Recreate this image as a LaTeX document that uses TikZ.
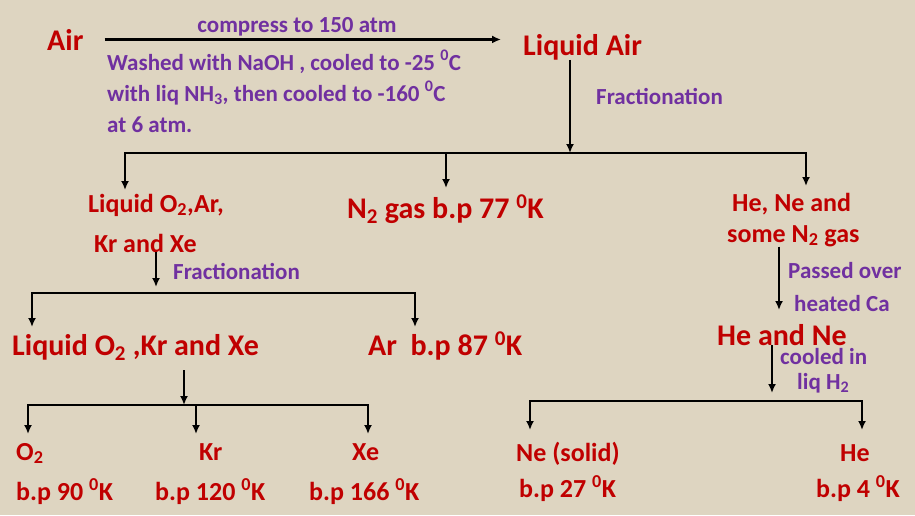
\documentclass[tikz,border=0pt]{standalone}
\usepackage{fontspec}
\setmainfont{Carlito}
\usetikzlibrary{positioning,arrows.meta}
\definecolor{airred}{RGB}{192,0,0}
\definecolor{notepurple}{RGB}{112,48,160}
\definecolor{paper}{RGB}{222,213,193}

\begin{document}
\begin{tikzpicture}[x=1pt, y=-1pt,
	arr/.style={-{Latex[length=9pt,width=8pt]}, line width=2.2pt},
	barline/.style={{Latex[length=9pt,width=8pt]}-{Latex[length=9pt,width=8pt]}, line width=2.2pt}]

\tikzstyle{gas} = [
    text = airred,
    inner sep = 0pt,
    anchor = base west,
    font = \bfseries\fontsize{26}{30}\selectfont
]
\tikzstyle{biggas} = [gas, font = \bfseries\fontsize{30}{34}\selectfont]
\tikzstyle{note} = [
    text = notepurple,
    inner sep = 0pt,
    anchor = base west,
    font = \bfseries\fontsize{23}{27}\selectfont
]

\fill[paper] (0,0) rectangle (915,515);
\useasboundingbox (0,0) rectangle (915,515);

% air to liquid air
\node [biggas] (air) at (47,50) {Air};
\node [biggas] (liqair) at (523,55) {Liquid Air};
\draw [arr] ([xshift=21pt]air.east) -- ([xshift=-22pt]liqair.west |- air.east);
\node [note, anchor=base] (comp) at (297,32) {compress to 150 atm};
\node [note, align=left, font=\bfseries\fontsize{23}{31}\selectfont] (wash) at (107,132)
    {Washed with NaOH , cooled to -25 \textsuperscript{0}C\\
     with liq NH\textsubscript{3}, then cooled to -160 \textsuperscript{0}C\\
     at 6 atm.};

% first fractionation
\coordinate (j1) at (570,153);
\coordinate (t1a) at (125,190);
\coordinate (t1b) at (446,188);
\coordinate (t1c) at (806,186);
\draw [arr] (liqair.south -| j1) -- (j1);
\node [note] (frac1) at (596,104) {Fractionation};
\draw [barline] (t1a) |- (j1) -| (t1c);
\draw [arr] (t1b |- j1) -- (t1b);

\node [gas] (lox1) at (88,212) {Liquid O\textsubscript{2},Ar,};
\node [gas] (lox2) at (94,252) {Kr and Xe};
\node [biggas] (ntwo) at (347,218) {N\textsubscript{2} gas b.p 77 \textsuperscript{0}K};
\node [gas] (hene1) at (732,211) {He, Ne and};
\node [gas] (hene2) at (727,242) {some N\textsubscript{2} gas};

% second fractionation
\coordinate (j2) at (156,293);
\coordinate (t2a) at (32,327);
\coordinate (t2b) at (415,327);
\draw [arr] (lox2.south -| j2) -- ([yshift=6pt]j2);
\node [note] (frac2) at (173,279) {Fractionation};
\draw [barline] (t2a) |- (j2) -| (t2b);

\node [biggas] (lokx) at (12,355) {Liquid O\textsubscript{2} ,Kr and Xe};
\node [biggas] (ar) at (368,355) {Ar\ \ b.p 87 \textsuperscript{0}K};

% O2, Kr, Xe
\coordinate (j3) at (184,405);
\coordinate (t3a) at (28,434);
\coordinate (t3b) at (196,434);
\coordinate (t3c) at (368,434);
\draw [arr] ([yshift=-10pt]lokx.south -| j3) -- (j3);
\draw [barline] (t3a) |- (j3) -| (t3c);
\draw [arr] (t3b |- j3) -- (t3b);

\node [gas] (otwo) at (16,460) {O\textsubscript{2}};
\node [gas] (otwobp) at (16,500) {b.p 90 \textsuperscript{0}K};
\node [gas] (kr) at (199,460) {Kr};
\node [gas] (krbp) at (155,500) {b.p 120 \textsuperscript{0}K};
\node [gas] (xe) at (352,460) {Xe};
\node [gas] (xebp) at (309,500) {b.p 166 \textsuperscript{0}K};

% He and Ne
\coordinate (j4) at (779,310);
\draw [arr] (hene2.south -| j4) -- (j4);
\node [note] (pass1) at (788,278) {Passed over};
\node [note] (pass2) at (794,311) {heated Ca};
\node [biggas] (hene) at (717,345) {He and Ne};

\coordinate (j5) at (772,401);
\coordinate (t5a) at (530,430);
\coordinate (t5b) at (862,430);
\draw [arr] (hene.south -| j5) -- ([yshift=8pt]j5);
\node [note] (cool1) at (780,364) {cooled in};
\node [note] (cool2) at (797,389) {liq H\textsubscript{2}};
\draw [barline] (t5a) |- (j5) -| (t5b);

\node [gas] (ne) at (516,461) {Ne (solid)};
\node [gas] (nebp) at (519,497) {b.p 27 \textsuperscript{0}K};
\node [gas] (he) at (840,461) {He};
\node [gas] (hebp) at (816,497) {b.p 4 \textsuperscript{0}K};
\end{tikzpicture}
\end{document}
